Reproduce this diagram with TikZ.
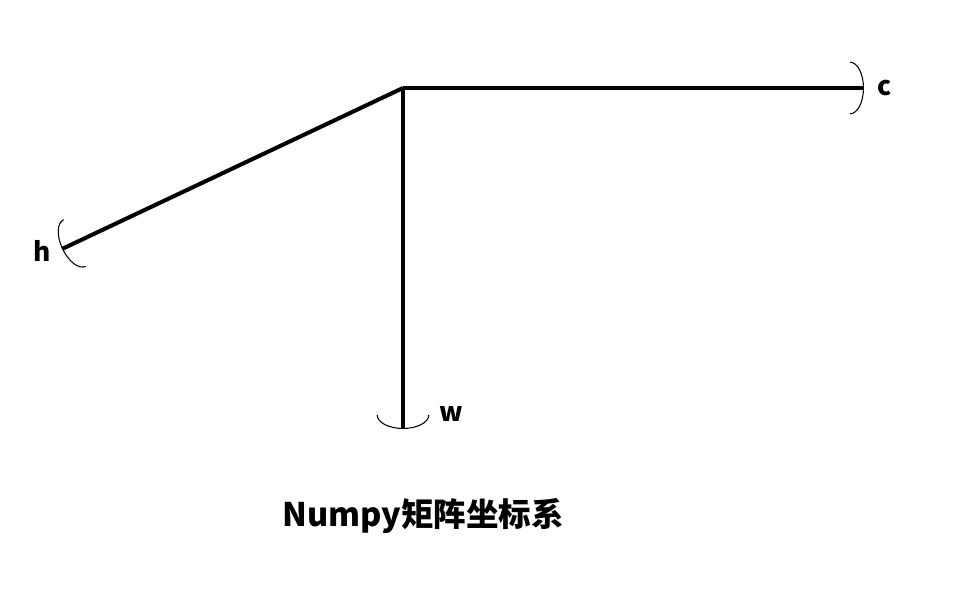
\documentclass[tikz,border=0pt]{standalone}
\usepackage{fontspec}
\setmainfont{Noto Sans CJK SC}
\usetikzlibrary{arrows.meta}

\tikzset{
  axis/.style={line width=2.3pt, -{Arc Barb[width=30pt, length=8pt, line width=0.6pt]}},
  axislabel/.style={font=\bfseries\fontsize{15}{18}\selectfont}
}

\begin{document}
\begin{tikzpicture}[x=0.02cm, y=-0.02cm]
        \useasboundingbox (0,0) rectangle (977,599);

        \coordinate (o) at (403,88);
        \coordinate (cend) at (864,88);
        \coordinate (hend) at (62,249);
        \coordinate (wend) at (403,429);

        \draw[axis] (o) -- (cend);
        \draw[axis] (o) -- (hend);
        \draw[axis] (o) -- (wend);

        \node[axislabel] (c) at (885,88) {c};
        \node[axislabel] (h) at (42,251) {h};
        \node[axislabel] (w) at (451,414) {w};

        \node[font=\bfseries\fontsize{18.5}{22}\selectfont] (title) at (423,516) {Numpy矩阵坐标系};
    \end{tikzpicture}
\end{document}
